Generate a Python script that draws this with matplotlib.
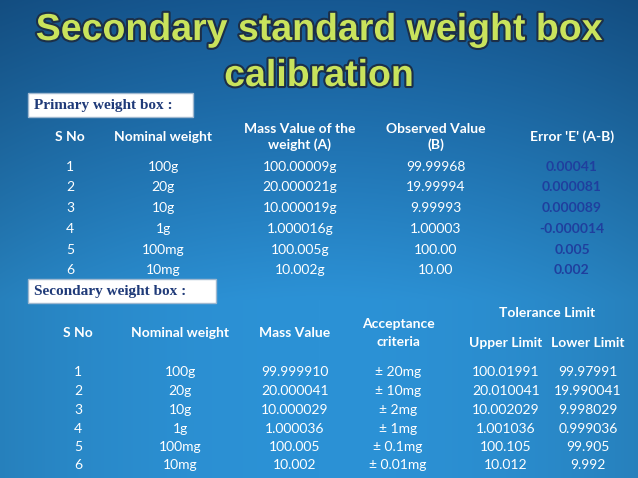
import matplotlib
matplotlib.use("Agg")
import matplotlib.pyplot as plt
import matplotlib.patheffects as pe
import numpy as np

W, H = 638, 478

# Primary weight box table
p_sno = ["1", "2", "3", "4", "5", "6"]
p_nominal = ["100g", "20g", "10g", "1g", "100mg", "10mg"]
p_mass = ["100.00009g", "20.000021g", "10.000019g", "1.000016g", "100.005g", "10.002g"]
p_observed = ["99.99968", "19.99994", "9.99993", "1.00003", "100.00", "10.00"]
p_error = ["0.00041", "0.000081", "0.000089", "-0.000014", "0.005", "0.002"]

# Secondary weight box table
s_sno = ["1", "2", "3", "4", "5", "6"]
s_nominal = ["100g", "20g", "10g", "1g", "100mg", "10mg"]
s_mass = ["99.999910", "20.000041", "10.000029", "1.000036", "100.005", "10.002"]
s_accept = ["± 20mg", "± 10mg", "± 2mg", "± 1mg", "± 0.1mg", "± 0.01mg"]
s_upper = ["100.01991", "20.010041", "10.002029", "1.001036", "100.105", "10.012"]
s_lower = ["99.97991", "19.990041", "9.998029", "0.999036", "99.905", "9.992"]

fig = plt.figure(figsize=(W / 100, H / 100), dpi=100)
bg = fig.add_axes([0, 0, 1, 1])
bg.set_xlim(0, W)
bg.set_ylim(H, 0)
bg.axis("off")

# blue gradient background
yy, xx = np.mgrid[0:H, 0:W]
t = np.clip(yy / 300.0, 0, 1)
edge = np.abs(xx - W / 2) / (W / 2)
top = np.array([0x16, 0x58, 0x92]) / 255
mid = np.array([0x2c, 0x92, 0xd6]) / 255
img = top[None, None, :] * (1 - t[..., None]) + mid[None, None, :] * t[..., None]
img = img * (1 - 0.12 * edge[..., None] ** 2)
bg.imshow(img, extent=[0, W, H, 0], aspect="auto", zorder=0)

outline = [pe.withStroke(linewidth=3, foreground="#1c2f48")]
for txt, y in [("Secondary standard weight box", 30), ("calibration", 76)]:
    bg.text(W / 2, y, txt, ha="center", va="center", fontsize=27,
            fontweight="bold", color="#c9e35c", family="Liberation Sans",
            path_effects=outline, zorder=3)


def label(text, x0, y0, w, h):
    bg.add_patch(plt.Rectangle((x0, y0), w, h, facecolor="white",
                               edgecolor="#9fb8d0", zorder=2))
    bg.text(x0 + 6, y0 + h / 2, text, ha="left", va="center", fontsize=11,
            fontweight="bold", color="#1f3a78", family="Liberation Serif", zorder=3)


body = dict(ha="center", va="center", fontsize=10, color="white",
            family="Lato", zorder=3)
head = dict(body, fontweight="bold")

# Primary table
label("Primary weight box :", 28, 93, 165, 24)
px = [70, 163, 300, 436, 572]
for x, h in zip(px, ["S No", "Nominal weight", "Mass Value of the\nweight (A)",
                     "Observed Value\n(B)", "Error 'E' (A-B)"]):
    bg.text(x, 137, h, linespacing=1.35, **head)
py = [167, 187, 208, 229, 250, 270]
for i, y in enumerate(py):
    for x, col in zip(px[:4], [p_sno, p_nominal, p_mass, p_observed]):
        bg.text(x, y, col[i], **body)
    d = dict(body)
    d.update(color="#1f3f9e", fontweight="bold")
    bg.text(px[4], y, p_error[i], **d)

# Secondary table
label("Secondary weight box :", 28, 279, 188, 24)
sx = [78, 180, 295, 398, 506, 588]
bg.text(sx[0], 333, "S No", **head)
bg.text(sx[1], 333, "Nominal weight", **head)
bg.text(sx[2], 333, "Mass Value", **head)
bg.text(sx[3], 333, "Acceptance\ncriteria", linespacing=1.5, **head)
bg.text((sx[4] + sx[5]) / 2, 313, "Tolerance Limit", **head)
bg.text(sx[4], 343, "Upper Limit", **head)
bg.text(sx[5], 343, "Lower Limit", **head)
sy = [372, 391, 410, 429, 447, 465]
for i, y in enumerate(sy):
    for x, col in zip(sx, [s_sno, s_nominal, s_mass, s_accept, s_upper, s_lower]):
        bg.text(x, y, col[i], **body)

fig.savefig("out.png", dpi=100)
